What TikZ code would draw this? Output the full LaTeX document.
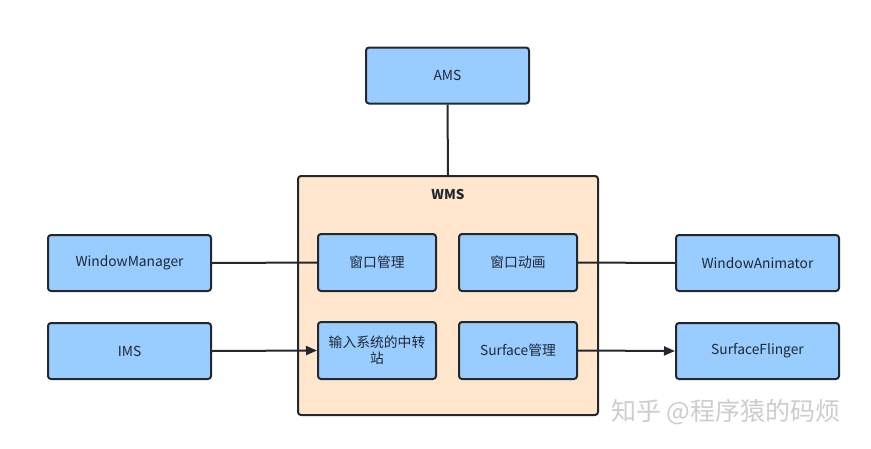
\documentclass[tikz,border=0pt]{standalone}
\usepackage{fontspec}
\setmainfont{Noto Sans CJK SC}
\usetikzlibrary{arrows.meta}
\definecolor{boxblue}{RGB}{153,204,255}
\definecolor{boxline}{RGB}{36,40,46}
\definecolor{wmsfill}{RGB}{255,230,204}
\definecolor{txt}{RGB}{30,40,55}
\definecolor{wm}{RGB}{205,205,205}
\begin{document}
\begin{tikzpicture}[x=1pt,y=-1pt,
  bluebox/.style={draw=boxline,fill=boxblue,line width=2pt,rounded corners=3pt,
    minimum width=163pt,minimum height=56pt,inner sep=2pt,align=center,
    font=\fontsize{13.8}{16}\selectfont,text=txt},
  innerbox/.style={bluebox,minimum width=118pt,minimum height=57pt,text width=108pt},
  conn/.style={draw=boxline,line width=2pt},
  arr/.style={conn,-{Triangle[length=11pt,width=9pt]}}]
\useasboundingbox (0,0) rectangle (871,448);
\fill[white] (0,0) rectangle (871,448);
% WMS container
\node[draw=boxline,fill=wmsfill,line width=2pt,rounded corners=3pt,
  minimum width=300pt,minimum height=239pt,inner sep=0pt] (wms) at (448,295.5) {};
\node[font=\bfseries\fontsize{13.5}{16}\selectfont,text=boxline] (wmstitle) at (448,194) {WMS};
% top
\node[bluebox] (ams) at (447.5,75.5) {AMS};
% inner boxes
\node[innerbox] (wmgr) at (377,262.5) {窗口管理};
\node[innerbox] (wani) at (518,262.5) {窗口动画};
\node[innerbox] (input) at (377,350.5) {输入系统的中转\\站};
\node[innerbox] (surf) at (518,350.5) {Surface管理};
% outer boxes
\node[bluebox] (WindowManager) at (129.5,263) {WindowManager};
\node[bluebox] (IMS) at (129.5,351) {IMS};
\node[bluebox] (WindowAnimator) at (757.5,263) {WindowAnimator};
\node[bluebox] (SurfaceFlinger) at (757.5,351) {SurfaceFlinger};
% connectors
\draw[conn] (ams.south) -- (wms.north);
\draw[conn] (WindowManager.east) -- (wmgr.west);
\draw[arr] (IMS.east) -- (input.west);
\draw[conn] (wani.east) -- (WindowAnimator.west);
\draw[arr] (surf.east) -- (SurfaceFlinger.west);
% watermark
\node[text=wm,font=\fontsize{25}{28}\selectfont,anchor=west,inner sep=0pt] (mark) at (611,412) {知乎 @程序猿的码烦};
\end{tikzpicture}
\end{document}
